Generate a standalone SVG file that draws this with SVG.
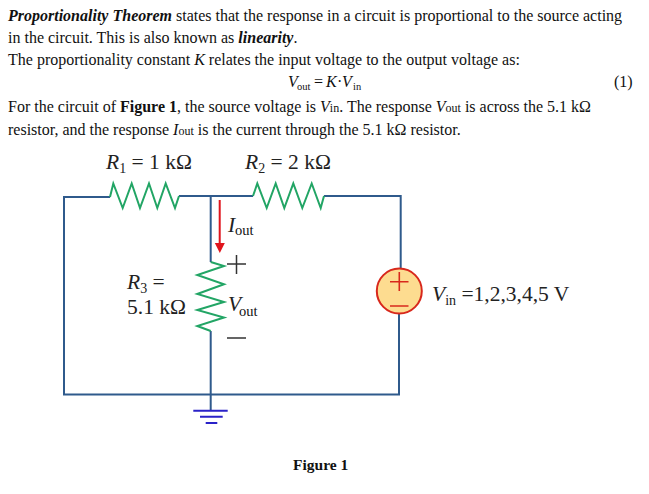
<svg xmlns="http://www.w3.org/2000/svg" width="649" height="494" viewBox="0 0 649 494">
<style>
text{font-family:"Liberation Serif","Times New Roman",serif;fill:#111}
.b{font-size:16px}
.c{font-size:21.500px;fill:#222}
.s{font-size:14px}
.wire{fill:none;stroke:#2f5a8c;stroke-width:2}
.res{fill:none;stroke:#22a565;stroke-width:2}
.gnd{fill:none;stroke:#2a22c8;stroke-width:2}
.sym{fill:none;stroke:#d8281c;stroke-width:1.6}
</style>
<rect width="649" height="494" fill="#fff"/>
<g id="text-block">
<text class="b" x="8" y="21"><tspan font-weight="bold" font-style="italic">Proportionality Theorem</tspan> states that the response in a circuit is proportional to the source acting</text>
<text class="b" x="8" y="43">in the circuit. This is also known as <tspan font-weight="bold" font-style="italic">linearity</tspan>.</text>
<text class="b" x="8" y="65">The proportionality constant <tspan font-style="italic">K</tspan> relates the input voltage to the output voltage as:</text>
<text class="b" x="288" y="87" font-style="italic">V</text>
<text x="297" y="90" font-size="10.500">out</text>
<text class="b" x="314" y="87">=</text>
<text class="b" x="326" y="87" font-style="italic">K</text>
<text class="b" x="337" y="87">·</text>
<text class="b" x="342" y="87" font-style="italic">V</text>
<text x="353" y="90" font-size="10.500">in</text>
<text class="b" x="614" y="87">(1)</text>
<text class="b" x="8" y="112">For the circuit of <tspan font-weight="bold">Figure 1</tspan>, the source voltage is <tspan font-style="italic">V</tspan><tspan font-size="12">in</tspan>. The response <tspan font-style="italic">V</tspan><tspan font-size="12">out</tspan> is across the 5.1 kΩ</text>
<text class="b" x="8" y="135">resistor, and the response <tspan font-style="italic">I</tspan><tspan font-size="12">out</tspan> is the current through the 5.1 kΩ resistor.</text>
</g>
<g id="connectors">
<path class="wire" d="M110 197H64V394.500H400M179 196H253M324 196H400.700V268M399 314V394.500M210.700 196V262M210.700 331V410"/>
<path d="M219.700 200V244" stroke="#e0141c" stroke-width="2" fill="none"/>
<path d="M214.800 243H224.800L219.800 253Z" fill="#e0141c"/>
</g>
<g id="R1">
<path class="res" d="M110 197L113.300 183.500L122.700 208L131.700 183.500L140 208L149 183.500L157.300 208L165.700 183.500L175 208L179 196"/>
<text class="c" x="106" y="169"><tspan font-style="italic">R</tspan><tspan class="s" dy="4">1</tspan><tspan dy="-4"> = 1 kΩ</tspan></text>
</g>
<g id="R2">
<path class="res" d="M253 196L257.300 183.500L266.700 208L275.700 183.500L284.300 208L293.300 183.500L302.300 208L311.700 183.500L320.700 208L324 196"/>
<text class="c" x="245" y="169"><tspan font-style="italic">R</tspan><tspan class="s" dy="4">2</tspan><tspan dy="-4"> = 2 kΩ</tspan></text>
</g>
<g id="R3">
<path class="res" d="M210.700 262L224 266L197.300 275L224 284.300L197.300 294L224 302L197.300 310L224 317.500L197.300 326L210.700 331"/>
<text class="c" x="127" y="289"><tspan font-style="italic">R</tspan><tspan class="s" dy="4">3</tspan><tspan dy="-4"> =</tspan></text>
<text class="c" x="127" y="314">5.1 kΩ</text>
</g>
<g id="Iout">
<text class="c" x="228" y="232" font-style="italic">I</text>
<text x="235" y="235" font-size="14.500">out</text>
</g>
<g id="Vout">
<path d="M227 264H246M236.500 255V274M227 338H246" fill="none" stroke="#333" stroke-width="1.500"/>
<text class="c" x="228" y="311" font-style="italic">V</text>
<text x="239" y="316" font-size="14.500">out</text>
</g>
<g id="source">
<circle cx="399.300" cy="291" r="22.500" fill="#fddc90" stroke="#d8281c" stroke-width="2"/>
<path class="sym" d="M390 281.700H408.500M399.300 272V291M390 306H408.500"/>
<text class="c" x="432" y="301"><tspan font-style="italic">V</tspan><tspan class="s" dy="4">in</tspan><tspan dy="-4"> =1,2,3,4,5 V</tspan></text>
</g>
<g id="ground">
<path class="gnd" d="M193.300 410.700H227.700M200 416.700H222.700M205.700 423H217.300"/>
</g>
<g id="caption">
<text x="293" y="470" font-size="15.500" font-weight="bold">Figure 1</text>
</g>
</svg>
